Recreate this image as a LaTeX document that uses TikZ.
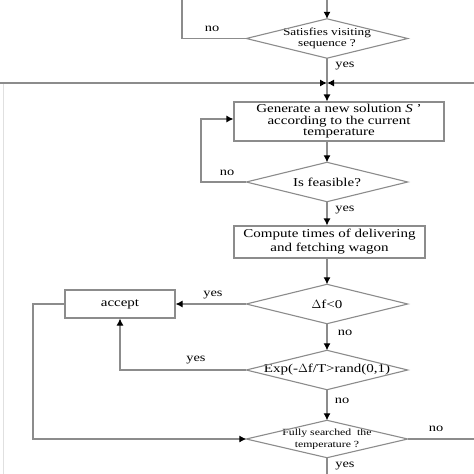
\documentclass[tikz,border=0pt]{standalone}
\usepackage{fontspec}
\setmainfont[FakeStretch=1.25]{Liberation Serif}
\usetikzlibrary{arrows.meta,calc}
\definecolor{lc}{HTML}{8C8C8C}
\tikzset{
  line/.style={draw=lc,line width=1.1pt},
  arr/.style={line,-{Latex[length=7pt,width=7pt,black]}},
  box/.style={draw=lc,line width=1.1pt,rectangle,inner sep=0pt,align=center,font=\fontsize{12}{14}\selectfont},
  dia/.style={rectangle,draw=none,inner sep=0pt,minimum width=161pt,minimum height=39pt,align=center,font=\fontsize{12}{13.5}\selectfont},
  lab/.style={inner sep=0pt,font=\fontsize{11.5}{12}\selectfont},
}
\begin{document}
\begin{tikzpicture}[x=1pt,y=-1pt]
\useasboundingbox (0,0) rectangle (474,474);
\clip (0,0) rectangle (474,474);
\fill[white] (0,0) rectangle (474,474);
% frame line
\draw[draw=black!12,line width=1pt] (3,84) -- (3,474);
% nodes
\node[dia,font=\fontsize{10.6}{11.6}\selectfont] (d1) at (327,38.5) {Satisfies visiting\\sequence ?};
\node[box,minimum width=210pt,minimum height=39pt,font=\fontsize{12}{11.5}\selectfont] (b1) at (339,121.5) {Generate a new solution \textit{S} '\\according to the current\\temperature};
\node[dia] (d2) at (327,182) {Is feasible?};
\node[box,minimum width=191pt,minimum height=32pt] (b2) at (329.5,242) {Compute times of delivering\\and fetching wagon};
\node[dia] (d3) at (327,304) {$\Delta$f<0};
\node[box,minimum width=110pt,minimum height=28pt] (acc) at (120,304) {accept};
\node[dia,font=\fontsize{12}{13.5}\selectfont] (d4) at (327,370) {Exp(-$\Delta$f/T>rand(0,1)};
\node[dia,minimum height=37pt,font=\fontsize{9.4}{12}\selectfont] (d5) at (327,439) {Fully searched\ \ the\\temperature ?};
\foreach \n in {d1,d2,d3,d4,d5}
  \draw[line,line join=miter] (\n.north) -- (\n.east) -- (\n.south) -- (\n.west) -- cycle;
% coordinates
\coordinate (t1) at (182,0);
\coordinate (t2) at (327,0);
\coordinate (hl) at (0,83);
\coordinate (hr) at (474,83);
\coordinate (hm) at (327,83);
\coordinate (c1) at (201,119);
\coordinate (c2) at (33,304);
\coordinate (c3) at (33,439);
\coordinate (c4) at (120,370);
\coordinate (er) at (474,439);
\coordinate (eb) at (327,480);
% connectors
\draw[line] (t1) |- (d1.west);
\draw[arr] (t2) -- (d1.north);
\draw[arr] (d1.south) -- (b1.north -| d1.south);
\draw[line,-{Latex[length=7pt,width=7pt,black]}] (hl) -- (hm);
\draw[line,-{Latex[length=7pt,width=7pt,black]}] (hr) -- (hm);
\draw[arr] (b1.south -| d2.north) -- (d2.north);
\draw[arr] (d2.west) -| (c1) -- (c1 -| b1.west);
\draw[arr] (d2.south) -- (b2.north -| d2.south);
\draw[arr] (b2.south -| d3.north) -- (d3.north);
\draw[arr] (d3.west) -- (acc.east);
\draw[arr] (acc.west) -- (c2) -- (c3) -- (d5.west);
\draw[arr] (d3.south) -- (d4.north);
\draw[arr] (d4.west) -- (c4) -- (acc.south);
\draw[arr] (d4.south) -- (d5.north);
\draw[line] (d5.east) -- (er);
\draw[line] (d5.south) -- (eb);
% labels
\node[lab] (l1) at (212,29) {no};
\node[lab] (l2) at (345,66) {yes};
\node[lab] (l3) at (227,173) {no};
\node[lab] (l4) at (345,210) {yes};
\node[lab] (l5) at (213,295) {yes};
\node[lab] (l6) at (345,333) {no};
\node[lab] (l7) at (196,360) {yes};
\node[lab] (l8) at (342,401) {no};
\node[lab] (l9) at (436,429) {no};
\node[lab] (l10) at (345,466) {yes};
\end{tikzpicture}
\end{document}
